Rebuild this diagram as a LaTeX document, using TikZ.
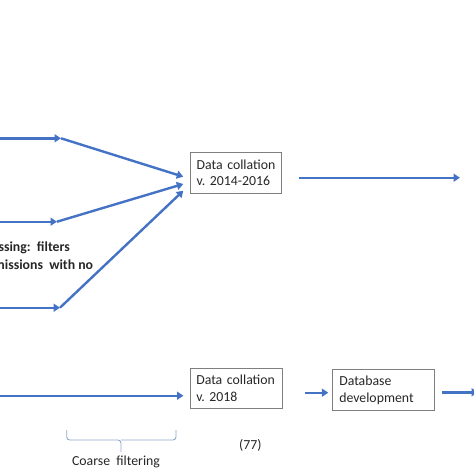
\documentclass[tikz,border=0pt]{standalone}
\usepackage{fontspec}
\setmainfont{Carlito}
\frenchspacing
\usetikzlibrary{arrows.meta}
\definecolor{arrowblue}{HTML}{4472C4}
\definecolor{boxgray}{HTML}{7F7F7F}
\definecolor{bracecol}{HTML}{8FA8C8}
\definecolor{txt}{HTML}{262626}
\tikzset{
  flow/.style={draw=arrowblue, line width=2.4pt, -{Triangle[length=6.5pt,width=8pt]}},
  stagebox/.style={draw=boxgray, line width=0.9pt, text=txt, align=left, inner sep=0pt,
    font=\fontsize{13.8}{16.7}\selectfont},
  boldtxt/.style={text=txt, font=\bfseries\fontsize{13.8}{17.6}\selectfont, inner sep=0pt},
  lbl/.style={text=txt, font=\fontsize{13.8}{16}\selectfont, inner sep=0pt},
  bracket/.style={draw=bracecol, line width=0.9pt, rounded corners=3pt}
}
\begin{document}
\begin{tikzpicture}[x=1pt,y=-1pt]
\useasboundingbox (0,0) rectangle (474,474);
\clip (0,0) rectangle (474,474);
% boxes
\node[stagebox, minimum width=91pt, minimum height=40.3pt, text width=79pt] (dc1) at (236.2,172.8) {Data collation\\v. 2014-2016};
\node[stagebox, minimum width=92pt, minimum height=40pt, text width=80pt] (dc2) at (236.3,388.3) {Data collation\\v. 2018};
\node[stagebox, minimum width=102pt, minimum height=41.4pt, text width=88pt] (db) at (383.3,390) {Database\\development};
% input coordinates
\coordinate (i1) at (-5,138.3);
\coordinate (m1) at (61,138.3);
\coordinate (i2) at (-5,221.7);
\coordinate (m2) at (57,221.7);
\coordinate (i3) at (-5,307.7);
\coordinate (m3) at (60,307.7);
\coordinate (t1) at (183.3,176.7);
\coordinate (t2) at (183.3,184);
\coordinate (t3) at (183.3,190.7);
\draw[flow] (i1) -- (m1);
\draw[flow] (m1) -- (t1);
\draw[flow] (i2) -- (m2);
\draw[flow] (m2) -- (t2);
\draw[flow] (i3) -- (m3);
\draw[flow] (m3) -- (t3);
% output of first box
\coordinate (o1s) at (299,177.7);
\coordinate (o1e) at (460,177.7);
\draw[flow] (o1s) -- (o1e);
% bottom row
\coordinate (i4) at (-5,395.7);
\coordinate (t4) at (183.5,395.7);
\draw[flow] (i4) -- (t4);
\coordinate (a2s) at (305,392.7);
\coordinate (a2e) at (328.3,392.7);
\draw[flow] (a2s) -- (a2e);
\coordinate (a3s) at (441.7,392.3);
\coordinate (a3e) at (478,392.3);
\draw[flow] (a3s) -- (a3e);
% partial bold text
\node[boldtxt, anchor=base east] (p1) at (70,251.5) {ssing:~ filters};
\node[boldtxt, anchor=base east] (p2) at (93.3,269.1) {missions~ with no};
% bracket
\coordinate (bl) at (66.7,430);
\coordinate (br) at (176,430);
\coordinate (bm) at (121,440);
\coordinate (bt) at (121,452);
\draw[bracket] (bl) |- (bm) -- (bt);
\draw[bracket] (br) |- (bm);
\node[lbl] (cf) at (116,461.7) {Coarse~ filtering};
\node[lbl] (n77) at (250.4,445) {(77)};
\end{tikzpicture}
\end{document}
